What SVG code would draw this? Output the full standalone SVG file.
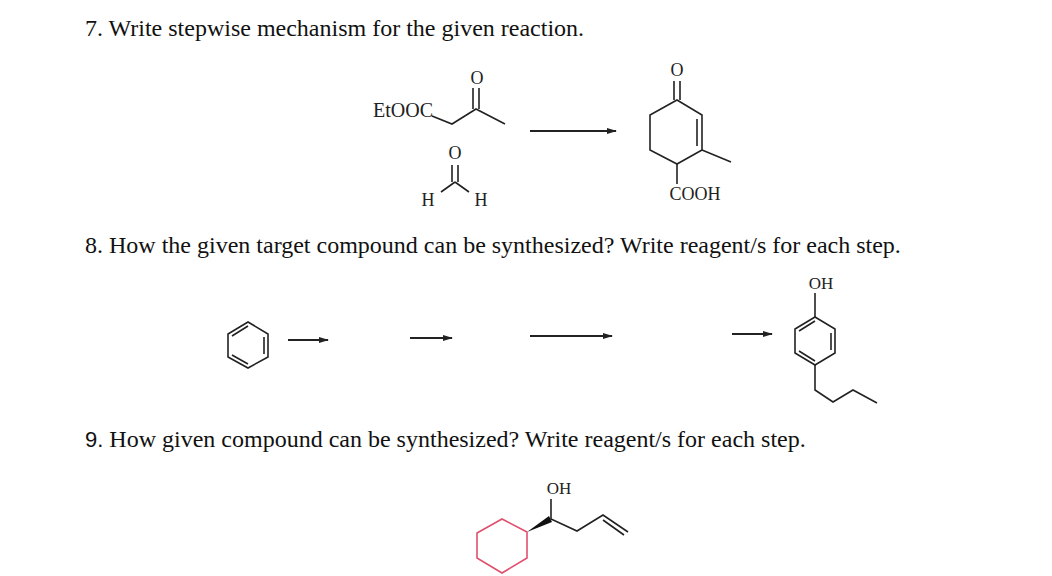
<svg xmlns="http://www.w3.org/2000/svg" width="1052" height="576" viewBox="0 0 1052 576">
<defs>
<style>
.h{font-family:"Liberation Serif",serif;font-size:24px;fill:#111}
.a{font-family:"Liberation Serif",serif;font-size:18px;fill:#222}
.b{stroke:#222;stroke-width:1.6;fill:none}
.r{stroke:#e0506e;stroke-width:1.6;fill:none}
.c{stroke:#222;stroke-width:1.8}
</style>
<marker id="ah" markerWidth="10" markerHeight="8" refX="9" refY="4" orient="auto" markerUnits="userSpaceOnUse">
<path d="M0,1 L10,4 L0,7 Z" fill="#222"/>
</marker>
</defs>
<rect width="1052" height="576" fill="#fff"/>
<text class="h" x="85" y="36">7. Write stepwise mechanism for the given reaction.</text>
<text class="h" x="85" y="253">8. How the given target compound can be synthesized? Write reagent/s for each step.</text>
<text class="h" x="85" y="447"><tspan font-family="Liberation Sans, sans-serif" font-size="22">9.</tspan> How given compound can be synthesized? Write reagent/s for each step.</text>

<g id="ketoester">
<text class="a" x="433" y="117" text-anchor="end" style="font-size:20px">EtOOC</text>
<path class="b" d="M432,116 L452,124 L476,109 L505,124"/>
<path class="b" d="M473,109 V88 M479,109 V88"/>
<text class="a" x="477" y="84" text-anchor="middle">O</text>
</g>
<g id="formaldehyde">
<text class="a" x="455" y="159" text-anchor="middle">O</text>
<path class="b" d="M452,165 V182 M458,165 V182 M455,182 L441,192 M455,182 L469,192"/>
<text class="a" x="428" y="206" text-anchor="middle">H</text>
<text class="a" x="481" y="206" text-anchor="middle">H</text>
</g>
<g id="product7">
<text class="a" x="677" y="76" text-anchor="middle">O</text>
<path class="b" d="M674,81 V100 M680,81 V100"/>
<path class="b" d="M677,100 L702,115 L702,150 L677,164 L650,150 L650,115 Z"/>
<path class="b" d="M697,119 V146 M702,150 L731,162 M677,164 V184"/>
<text class="a" x="695" y="200" text-anchor="middle">COOH</text>
</g>

<g id="benzene">
<path class="b" d="M248,322 L268,334 L268,357 L248,368 L228,357 L228,334 Z"/>
<path class="b" d="M264,337 V354 M248,326 L232,336 M232,355 L248,364"/>
</g>
<g id="phenol">
<text class="a" x="821" y="289" text-anchor="middle" style="font-size:17px">OH</text>
<path class="b" d="M815,293 V317"/>
<path class="b" d="M815,317 L835,329 L835,353 L815,365 L795,353 L795,329 Z"/>
<path class="b" d="M831,333 V350 M815,321 L799,331 M799,351 L815,361"/>
<path class="b" d="M815,365 V390 L833,402 L853,390 L877,403"/>
</g>

<g id="alcohol">
<text class="a" x="559" y="494" text-anchor="middle" style="font-size:17px">OH</text>
<path class="b" d="M551,499 V519 L577,531 L603,515 L628,532 M603,520 L624,535"/>
<path fill="#111" d="M527,532 L549,516 L552,522 Z"/>
<path class="r" d="M527,532 L502,519 L477,533 L477,558 L502,573 L527,558 Z"/>
</g>

<g id="connectors">
<line class="c" x1="530" y1="131" x2="616" y2="131" marker-end="url(#ah)"/>
<line class="c" x1="288" y1="340" x2="328" y2="340" marker-end="url(#ah)"/>
<line class="c" x1="410" y1="338" x2="452" y2="338" marker-end="url(#ah)"/>
<line class="c" x1="530" y1="336" x2="612" y2="336" marker-end="url(#ah)"/>
<line class="c" x1="732" y1="334" x2="772" y2="334" marker-end="url(#ah)"/>
</g>
</svg>
